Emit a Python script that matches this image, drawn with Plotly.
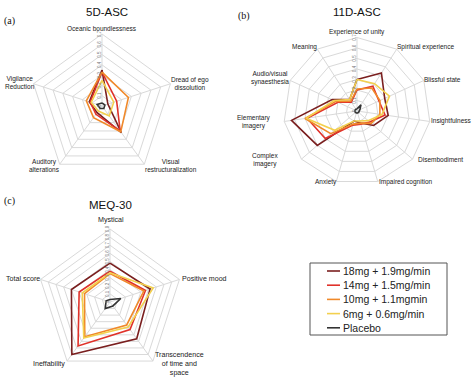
import plotly.graph_objects as go

# ---------------- data ----------------
asc5_dims = ["Oceanic boundlessness", "Dread of ego<br>dissolution", "Visual<br>restructuralization",
             "Auditory<br>alterations", "Vigilance<br>Reduction"]
asc5_18 = [0.35, 0.06, 0.32, 0.08, 0.13]
asc5_14 = [0.33, 0.15, 0.30, 0.10, 0.12]
asc5_10 = [0.33, 0.27, 0.31, 0.14, 0.16]
asc5_6 = [0.25, 0.12, 0.12, 0.06, 0.11]
asc5_pl = [0.03, 0.03, 0.03, 0.03, 0.05]

asc11_dims = ["Experience of unity", "Spiritual experience", "Blissful state", "Insightfulness",
              "Disembodiment", "Impaired cognition", "Anxiety", "Complex<br>imagery",
              "Elementary<br>imagery", "Audio/visual<br>synaesthesia", "Meaning"]
asc11_18 = [0.30, 0.43, 0.29, 0.30, 0.21, 0.12, 0.10, 0.50, 0.63, 0.26, 0.13]
asc11_14 = [0.20, 0.28, 0.23, 0.27, 0.16, 0.13, 0.14, 0.40, 0.48, 0.20, 0.10]
asc11_10 = [0.21, 0.26, 0.24, 0.22, 0.18, 0.12, 0.13, 0.33, 0.50, 0.22, 0.11]
asc11_6 = [0.30, 0.31, 0.34, 0.24, 0.14, 0.10, 0.10, 0.28, 0.49, 0.24, 0.13]
asc11_pl = [0.02, 0.07, 0.03, 0.02, 0.02, 0.02, 0.02, 0.02, 0.02, 0.02, 0.02]

meq_dims = ["Mystical", "Positive mood", "Transcendence<br>of time and<br>space", "Ineffability", "Total score"]
meq_18 = [0.48, 0.52, 0.56, 0.80, 0.50]
meq_14 = [0.38, 0.46, 0.42, 0.67, 0.40]
meq_10 = [0.35, 0.44, 0.35, 0.53, 0.33]
meq_6 = [0.36, 0.56, 0.38, 0.55, 0.36]
meq_pl = [0.03, 0.14, 0.06, 0.10, 0.05]

group_names = ["18mg + 1.9mg/min", "14mg + 1.5mg/min", "10mg + 1.1mgmin", "6mg + 0.6mg/min", "Placebo"]
group_colors = ["#7a1f1f", "#e0322a", "#f0892a", "#f3d04e", "#333333"]

asc5_ticks = [0, 0.1, 0.2, 0.3, 0.4, 0.5, 0.6, 0.7]
asc11_ticks = [0, 0.1, 0.2, 0.3, 0.4, 0.5, 0.6, 0.7]
meq_ticks = [0, 0.1, 0.2, 0.3, 0.4, 0.5, 0.6, 0.7, 0.8, 0.9]

# ---------------- layout ----------------
W, H = 474, 379
FONT = "Liberation Sans, Arial, sans-serif"
SERIF = "Liberation Serif, Times New Roman, serif"

# pixel positions of the axis (dimension) labels, one per dimension
asc5_label_pos = [(102, 28), (189.5, 83.5), (171, 166), (44.5, 166), (19.5, 83)]
asc11_label_pos = [(356.5, 31.5), (425.5, 46.5), (442, 79), (450.5, 120.5), (440, 160),
                   (405, 182.5), (325.5, 182.5), (265, 159.5), (254, 121.5), (269.5, 78.5),
                   (304, 46.5)]
meq_label_pos = [(110.5, 220), (204, 278.5), (179.5, 363.5), (49, 364), (23, 278.5)]

fig = go.Figure()

panels = [
    ("polar", asc5_dims, [asc5_18, asc5_14, asc5_10, asc5_6, asc5_pl], asc5_label_pos, 6.5),
    ("polar2", asc11_dims, [asc11_18, asc11_14, asc11_10, asc11_6, asc11_pl], asc11_label_pos, 6.5),
    ("polar3", meq_dims, [meq_18, meq_14, meq_10, meq_6, meq_pl], meq_label_pos, 7.1),
]


def px(x):
    return x / W


def py(y):
    return (H - y) / H


for sub, dims, series, _, _ in panels:
    for name, col, vals in zip(group_names, group_colors, series):
        fig.add_trace(go.Scatterpolar(
            r=vals + vals[:1], theta=dims + dims[:1], mode="lines",
            line=dict(color=col, width=1.6), name=name, subplot=sub,
            showlegend=False, hoverinfo="skip"))


def dom(cx, cy, R):
    return dict(x=[px(cx - R), px(cx + R)], y=[py(cy + R), py(cy - R)])


def polar_layout(cx, cy, R, ticks):
    return dict(
        domain=dom(cx, cy, R),
        gridshape="linear",
        bgcolor="white",
        radialaxis=dict(range=[0, ticks[-1]], tickvals=ticks,
                        ticktext=["0"] + [f"{t:.1f}" for t in ticks[1:]],
                        angle=90, tickangle=0, side="counterclockwise",
                        showline=False, ticks="", gridcolor="#d9d9d9", gridwidth=1,
                        tickfont=dict(size=4.5, color="#777777", family=FONT)),
        angularaxis=dict(direction="clockwise", rotation=90, showline=True,
                         linecolor="#d9d9d9", linewidth=1, gridcolor="#d9d9d9",
                         ticks="", showticklabels=False),
    )


fig.update_layout(
    width=W, height=H, margin=dict(l=0, r=0, t=0, b=0),
    paper_bgcolor="white", plot_bgcolor="white",
    polar=polar_layout(102, 106, 72, asc5_ticks),
    polar2=polar_layout(357, 111, 73.5, asc11_ticks),
    polar3=polar_layout(110, 302, 73, meq_ticks),
    showlegend=False,
    font=dict(family=FONT),
)

# dimension labels
for _, dims, _, pos, fs in panels:
    for text, (x, y) in zip(dims, pos):
        fig.add_annotation(text=text, x=px(x), y=py(y), xref="paper", yref="paper",
                           xanchor="center", yanchor="middle", align="center",
                           showarrow=False, font=dict(size=fs, family=FONT, color="#222222"))

ann = [
    ("5D-ASC", 107, 12, 11.5, FONT, "center"),
    ("11D-ASC", 357, 12, 11.5, FONT, "center"),
    ("MEQ-30", 110, 205, 11.5, FONT, "center"),
    ("(a)", 2, 21, 10, SERIF, "left"),
    ("(b)", 236, 16, 10, SERIF, "left"),
    ("(c)", 2, 201, 10, SERIF, "left"),
]
for text, x, y, size, fam, xa in ann:
    fig.add_annotation(text=text, x=px(x), y=py(y), xref="paper", yref="paper",
                       xanchor=xa, yanchor="middle", showarrow=False,
                       font=dict(size=size, family=fam, color="#111111"))

# ---- legend box (drawn manually for compact row spacing) ----
fig.add_shape(type="rect", xref="paper", yref="paper",
              x0=px(310), x1=px(447), y0=py(335), y1=py(263),
              line=dict(color="#555555", width=1), fillcolor="white", layer="below")
for i, (name, col) in enumerate(zip(group_names, group_colors)):
    yy = 271 + i * 14.2
    fig.add_shape(type="line", xref="paper", yref="paper",
                  x0=px(327), x1=px(340), y0=py(yy), y1=py(yy),
                  line=dict(color=col, width=1.6))
    fig.add_annotation(text=name, x=px(341), y=py(yy), xref="paper", yref="paper",
                       xanchor="left", yanchor="middle", showarrow=False,
                       font=dict(size=10.5, family=FONT, color="#222222"))

fig.write_html("out.html", config={"displayModeBar": False},
               post_script="document.body.style.margin='0';")
